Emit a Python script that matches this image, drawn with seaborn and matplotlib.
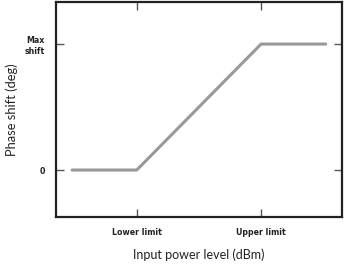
import matplotlib
matplotlib.use("Agg")
import matplotlib.pyplot as plt
import seaborn as sns
import pandas as pd

# data
x_vals = [0.48, 1.0, 2.0, 2.52]
y_vals = [0.0, 0.0, 1.0, 1.0]
x_ticks = [1.0, 2.0]
x_tick_labels = ["Lower limit", "Upper limit"]
y_ticks = [0.0, 1.0]
y_tick_labels = ["0", "Max\nshift"]

sns.set_style("white")
plt.rcParams['font.family'] = ['DejaVu Sans']

df = pd.DataFrame({"x": x_vals, "y": y_vals})

fig = plt.figure(figsize=(3.45, 2.65), dpi=100)
ax = fig.add_axes([0.162, 0.181, 0.829, 0.811])
sns.lineplot(data=df, x="x", y="y", ax=ax, color="#999999", linewidth=2.2)

ax.set_xlim(0.35, 2.65)
ax.set_ylim(-0.373, 1.333)
ax.set_xticks(x_ticks)
ax.set_xticklabels(x_tick_labels, fontsize=6.3, color="#222222",
                   fontstretch="condensed", fontweight="bold")
ax.set_yticks(y_ticks)
ax.set_yticklabels(y_tick_labels, fontsize=6.3, color="#222222", linespacing=1.3,
                   fontstretch="condensed", fontweight="bold")
ax.tick_params(direction="in", length=6, width=1, color="#555555",
               top=True, right=True, bottom=True, left=True, pad=8)
for s in ax.spines.values():
    s.set_color("#222222")
    s.set_linewidth(1.6)
    s.set_visible(True)
ax.set_xlabel("Input power level (dBm)", fontsize=9, family=['Lato', 'DejaVu Sans'], color="#222222", labelpad=8)
ax.set_ylabel("Phase shift (deg)", fontsize=9.3, family=['Lato', 'DejaVu Sans'], color="#222222", labelpad=5)

fig.savefig("out.png", dpi=100)
